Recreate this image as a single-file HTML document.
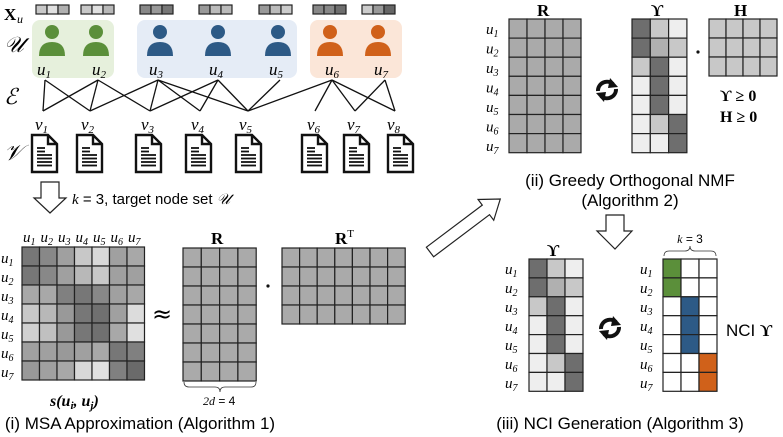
<!DOCTYPE html>
<html><head><meta charset="utf-8"><style>
body{margin:0;background:#fff}
svg{display:block}
.m{font-family:"Liberation Serif",serif;font-style:italic}
.b{font-family:"Liberation Serif",serif;font-weight:bold}
.s{font-family:"Liberation Sans",sans-serif}
</style></head><body>
<svg id="g" width="783" height="437" viewBox="0 0 783 437" xmlns="http://www.w3.org/2000/svg">
<rect x="32" y="20" width="82" height="58" rx="8" fill="#e6f0dc"/>
<rect x="137" y="20" width="160" height="58" rx="8" fill="#e5ecf6"/>
<rect x="310" y="20" width="92" height="58" rx="8" fill="#fbe6d8"/>
<text x="4" y="20" class="b" font-size="17">X</text><text x="17" y="23" class="m" font-size="12">u</text>
<text x="4" y="52" class="m" font-size="22">𝒰</text>
<text x="4" y="104" class="m" font-size="22">ℰ</text>
<text x="4" y="160" class="m" font-size="22">𝒱</text>
<g id="icons"></g>
<g id="edges" stroke="#111" stroke-width="1.3"></g>
<g class="m" font-size="17">
<text x="37" y="75">u<tspan font-size="11" dy="3">1</tspan></text>
<text x="92" y="75">u<tspan font-size="11" dy="3">2</tspan></text>
<text x="149" y="75">u<tspan font-size="11" dy="3">3</tspan></text>
<text x="209" y="75">u<tspan font-size="11" dy="3">4</tspan></text>
<text x="269" y="75">u<tspan font-size="11" dy="3">5</tspan></text>
<text x="325" y="75">u<tspan font-size="11" dy="3">6</tspan></text>
<text x="374" y="75">u<tspan font-size="11" dy="3">7</tspan></text>
<text x="35" y="130">v<tspan font-size="11" dy="3">1</tspan></text>
<text x="81" y="130">v<tspan font-size="11" dy="3">2</tspan></text>
<text x="141" y="130">v<tspan font-size="11" dy="3">3</tspan></text>
<text x="191" y="130">v<tspan font-size="11" dy="3">4</tspan></text>
<text x="239" y="130">v<tspan font-size="11" dy="3">5</tspan></text>
<text x="307" y="130">v<tspan font-size="11" dy="3">6</tspan></text>
<text x="347" y="130">v<tspan font-size="11" dy="3">7</tspan></text>
<text x="387" y="130">v<tspan font-size="11" dy="3">8</tspan></text>
</g>
<g id="docs"></g>
<polygon points="41,182 59,182 59,198 66,198 50,213 34,198 41,198" fill="#fff" stroke="#222" stroke-width="1.2"/>
<text x="72" y="204" class="s" font-size="15"><tspan class="m">k</tspan> = 3, target node set <tspan class="m">𝒰</tspan></text>
<g class="m" font-size="15" id="slab"></g>
<text x="152" y="322" font-size="24" font-family="DejaVu Sans">≈</text>
<text x="211" y="244" class="b" font-size="17">R</text>
<text x="335" y="244" class="b" font-size="17">R<tspan font-size="11" dy="-7" font-weight="normal">T</tspan></text>
<circle cx="268" cy="286" r="1.6" fill="#111"/>
<path d="M184,382 q0,5 5,5 h26 q5,0 5,5 q0,-5 5,-5 h26 q5,0 5,-5" fill="none" stroke="#333" stroke-width="0.8"/>
<text x="203" y="405" class="s" font-size="12"><tspan class="m">2d</tspan> = 4</text>
<text x="50" y="406" class="b" font-size="16" font-style="italic">s(u<tspan font-size="11" dy="3">i</tspan><tspan dy="-3">, u</tspan><tspan font-size="11" dy="3">j</tspan><tspan dy="-3">)</tspan></text>
<text x="140" y="429" class="s" font-size="17" text-anchor="middle">(i) MSA Approximation (Algorithm 1)</text>
<g transform="translate(430,252) rotate(-37)">
<polygon points="0,-6 70,-6 70,-13 88,0 70,13 70,6 0,6" fill="#fff" stroke="#222" stroke-width="1.2"/>
</g>
<text x="537" y="16" class="b" font-size="17">R</text>
<text x="651" y="16" class="b" font-size="17">ϒ</text>
<text x="734" y="16" class="b" font-size="17">H</text>
<circle cx="698" cy="52" r="1.6" fill="#111"/>
<text x="720" y="101" class="b" font-size="16">ϒ ≥ 0</text>
<text x="720" y="122" class="b" font-size="16">H ≥ 0</text>
<text x="630" y="186" class="s" font-size="17" text-anchor="middle">(ii) Greedy Orthogonal NMF</text>
<text x="630" y="206" class="s" font-size="17" text-anchor="middle">(Algorithm 2)</text>
<polygon points="606,215 624,215 624,231 632,231 615,249 597,231 606,231" fill="#fff" stroke="#222" stroke-width="1.2"/>
<text x="547" y="256" class="b" font-size="17">ϒ</text>
<path d="M664,256 q0,-5 5,-5 h16 q5,0 5,-5 q0,5 5,5 h16 q5,0 5,5" fill="none" stroke="#333" stroke-width="0.8"/>
<text x="690" y="243" class="s" font-size="12" text-anchor="middle"><tspan class="m">k</tspan> = 3</text>
<text x="726" y="336" class="s" font-size="17">NCI <tspan class="b">ϒ</tspan></text>
<text x="620" y="429" class="s" font-size="17" text-anchor="middle">(iii) NCI Generation (Algorithm 3)</text>
<g class="m" font-size="15" id="rlab"></g>
<g id="cells"></g>
</svg>
<script>
var NS="http://www.w3.org/2000/svg";
function el(p,t,a,txt){var e=document.createElementNS(NS,t);for(var k in a)e.setAttribute(k,a[k]);if(txt)e.textContent=txt;document.getElementById(p).appendChild(e);return e;}
function grid(x,y,w,h,cols){var r=cols.length,c=cols[0].length;for(var i=0;i<r;i++)for(var j=0;j<c;j++)el("cells","rect",{x:x+j*w,y:y+i*h,width:w,height:h,fill:cols[i][j],stroke:"#222","stroke-width":1.2});}
function fill(r,c,v){var a=[];for(var i=0;i<r;i++){a.push([]);for(var j=0;j<c;j++)a[i].push(v);}return a;}
var bars=[[36,["#c8c8c8","#e0e0e0","#b0b0b0"]],[81,["#c8c8c8","#e0e0e0","#b8b8b8"]],[140,["#888","#999","#777"]],[199,["#999","#bbb","#bbb"]],[259,["#999","#bbb","#ccc"]],[313,["#888","#888","#6e6e6e"]],[362,["#ccc","#999","#666"]]];
bars.forEach(function(b){grid(b[0],5,11,9,[b[1]]);});
var ic=[[52,"#5b8f3a"],[96,"#5b8f3a"],[160,"#2d5a86"],[218,"#2d5a86"],[278,"#2d5a86"],[330,"#d0611a"],[378,"#d0611a"]];
ic.forEach(function(c){el("icons","circle",{cx:c[0],cy:32,r:7,fill:c[1]});el("icons","path",{d:"M"+(c[0]-13)+",56 q0,-14 13,-14 q13,0 13,14 z",fill:c[1]});});
var U={1:45,2:98,3:158,4:218,5:280,6:332,7:385},V={1:43,2:90,3:150,4:200,5:248,6:315,7:355,8:395};
[[1,1],[1,2],[2,1],[2,2],[2,3],[3,2],[3,3],[3,4],[3,5],[4,3],[4,4],[4,5],[5,5],[6,5],[6,6],[6,7],[6,8],[7,7],[7,8]].forEach(function(e){el("edges","line",{x1:U[e[0]],y1:80,x2:V[e[1]],y2:111});});
[32,77,136,186,236,302,344,388].forEach(function(x){el("docs","path",{d:"M"+x+",135 h16 l9,9 v28 h-25 z M"+(x+16)+",135 v9 h9",fill:"#fff",stroke:"#111","stroke-width":2.4,"stroke-linejoin":"miter"});for(var i=0;i<6;i++)el("docs","line",{x1:x+5,x2:x+(i<2?13:20),y1:148+i*3.5,y2:148+i*3.5,stroke:"#111","stroke-width":1.8});});
var S=[["#777","#888","#a0a0a0","#c8c8c8","#d8d8d8","#a0a0a0","#a8a8a8"],
["#777","#888","#a0a0a0","#b8b8b8","#c8c8c8","#a0a0a0","#a0a0a0"],
["#a8a8a8","#a8a8a8","#808080","#777","#888","#a0a0a0","#a8a8a8"],
["#c8c8c8","#b8b8b8","#999","#777","#707070","#a0a0a0","#dcdcdc"],
["#d0d0d0","#c0c0c0","#999","#777","#707070","#a8a8a8","#e0e0e0"],
["#a0a0a0","#a0a0a0","#999","#a0a0a0","#a8a8a8","#777","#808080"],
["#999","#a0a0a0","#a8a8a8","#d8d8d8","#e0e0e0","#808080","#6a6a6a"]];
grid(22,247,17.5,19,S);
grid(183,248,18.3,19,fill(7,4,"#aaa"));
grid(282,248,17.6,19,fill(4,7,"#aaa"));
function el2(t,n){var s=document.createElementNS(NS,"tspan");s.setAttribute("font-size","10");s.setAttribute("dy","3");s.textContent=n;t.appendChild(s);}
for(var i=0;i<7;i++){
 el2(el("slab","text",{x:23+i*17.5,y:242},"u"),i+1);
 el2(el("slab","text",{x:1,y:263+i*19},"u"),i+1);
}
grid(509,19,18,19.1,fill(7,4,"#aaa"));
var D="#6e6e6e",L="#c8c8c8",M="#b0b0b0",W="#eeeeee";
var Y=[[D,L,W],[D,M,L],[L,D,W],[W,D,W],[W,D,W],[W,L,D],[W,W,D]];
grid(632,19,18.3,19.1,Y);
grid(709,19,17,19,fill(3,4,"#c8c8c8"));
grid(529,259,18,18.9,Y);
var G="#5b8f3a",B="#2d5a86",O="#d0611a",F="#fff";
grid(663,259,18,18.9,[[G,F,F],[G,F,F],[F,B,F],[F,B,F],[F,B,F],[F,F,O],[F,F,O]]);
for(var i=0;i<7;i++){
 el2(el("rlab","text",{x:486,y:34+i*19.5},"u"),i+1);
 el2(el("rlab","text",{x:505,y:274+i*19},"u"),i+1);
 el2(el("rlab","text",{x:640,y:274+i*19},"u"),i+1);
}
[[607,90],[610,328]].forEach(function(p){var x=p[0],y=p[1];
el("cells","path",{d:"M"+(x-9)+","+(y+1)+" a9,9 0 0 1 15,-7",fill:"none",stroke:"#111","stroke-width":4});
el("cells","polygon",{points:(x+3)+","+(y-12)+" "+(x+11)+","+(y-3)+" "+(x+1)+","+(y-2),fill:"#111"});
el("cells","path",{d:"M"+(x+9)+","+(y-1)+" a9,9 0 0 1 -15,7",fill:"none",stroke:"#111","stroke-width":4});
el("cells","polygon",{points:(x-3)+","+(y+12)+" "+(x-11)+","+(y+3)+" "+(x-1)+","+(y+2),fill:"#111"});});
</script>
</body></html>
